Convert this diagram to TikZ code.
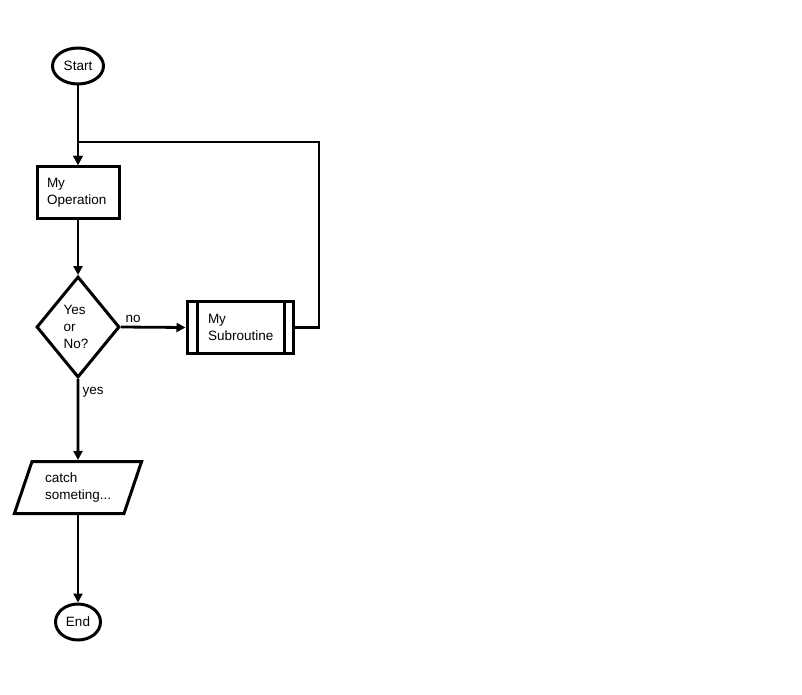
\documentclass[tikz,border=0pt]{standalone}
\usepackage{fontspec}
\setmainfont{Liberation Sans}
\usepackage{tikz}
\usetikzlibrary{shapes.geometric, arrows.meta, positioning}

\begin{document}
\begin{tikzpicture}
  [
    x=1pt, y=-1pt,
    >={Triangle[length=9pt, width=9pt]},
    every node/.style={font=\fontsize{13.5}{17}\selectfont},
    Term/.style={ellipse, draw=black, line width=3pt, inner sep=0pt, minimum height=36pt},
    Box/.style={rectangle, draw=black, line width=3pt, minimum height=52pt, inner xsep=10pt, text width=62pt, align=left},
    Choice/.style={diamond, draw=black, line width=3pt, inner sep=0pt, minimum width=83pt, minimum height=101pt, align=left},
    Sub/.style={rectangle, draw=black, line width=3pt, minimum height=52pt, inner xsep=21pt, text width=64pt, align=left,
      path picture={
        \draw[line width=3pt] ([xshift=10pt]path picture bounding box.north west) -- ([xshift=10pt]path picture bounding box.south west);
        \draw[line width=3pt] ([xshift=-9pt]path picture bounding box.north east) -- ([xshift=-9pt]path picture bounding box.south east);
      }},
    Data/.style={trapezium, trapezium left angle=69, trapezium right angle=111, trapezium stretches=true, draw=black, line width=3pt,
      minimum width=128pt, minimum height=52pt, text width=66pt, align=left},
    Flow/.style={->, draw=black, line width=2.8pt}
  ]
  \useasboundingbox (0,0) rectangle (802,695);
  % Nodes
  \node[Term, minimum width=51pt] (start) at (78, 66) {Start};
  \node[Box] (op) at (78, 192.5) {My\\Operation};
  \node[Choice] (yesno) at (78, 327) {\hspace*{-4pt}Yes\\\hspace*{-4pt}or\\\hspace*{-4pt}No?};
  \node[Sub] (sub) at (240, 327.5) {My\\Subroutine};
  \node[Data] (catch) at (78, 487.5) {catch\\someting...};
  \node[Term, minimum width=45pt] (end) at (78, 622) {End};
  \coordinate (back) at (319, 142);
  % Lines
  \path [Flow] (start) -- (op);
  \path [Flow] (op) -- (yesno);
  \path [Flow] (yesno.east) -- node[above right, pos=0] {no} (sub.west);
  \path [Flow] (yesno.south) -- node[below right, pos=0, yshift=-3pt] {yes} (catch.north);
  \path [Flow] (catch) -- (end);
  \path [Flow] (sub.east) -| (back) -| (op.north);
\end{tikzpicture}
\end{document}
